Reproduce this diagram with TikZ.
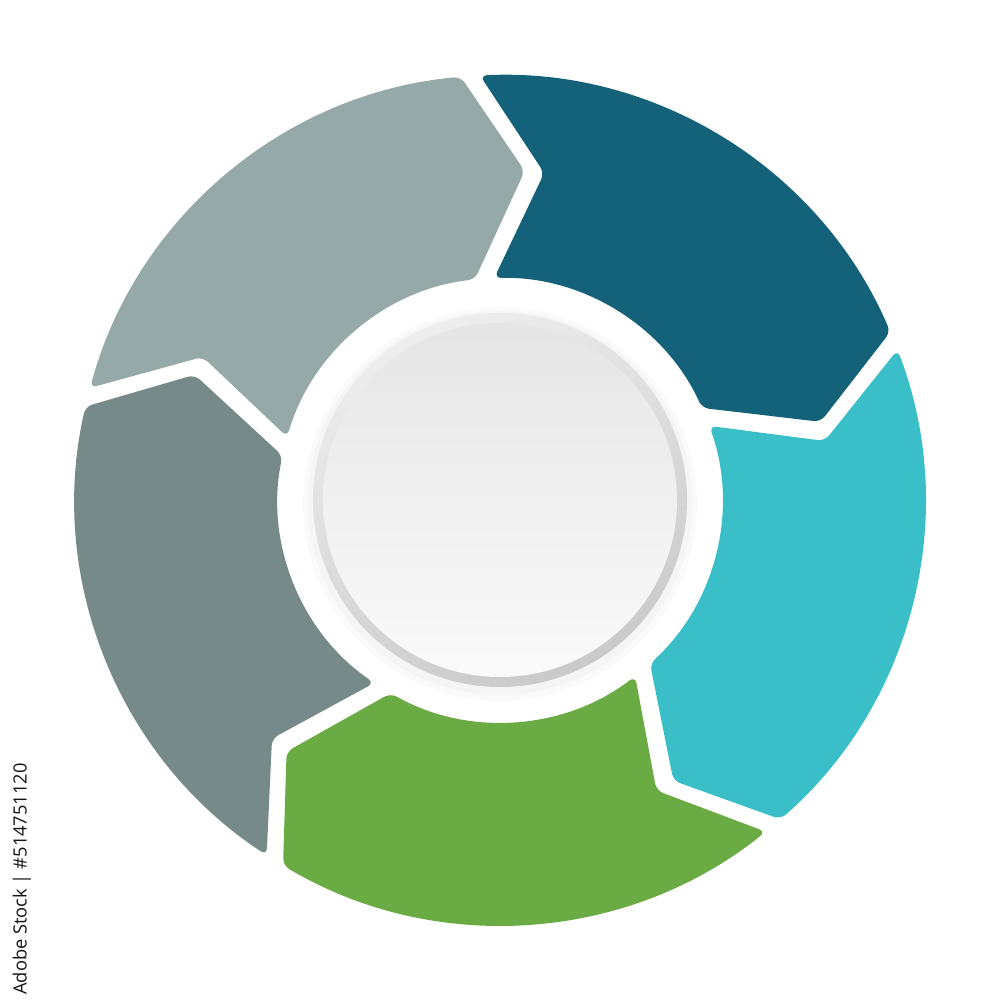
\documentclass[tikz,border=0pt]{standalone}
\usepackage{fontspec}
\setsansfont{Open Sans}
\usepackage{tikz}

\definecolor{cycleblue}{HTML}{14627A}
\definecolor{cyclecyan}{HTML}{3ABFC9}
\definecolor{cyclegreen}{HTML}{6AAB44}
\definecolor{cycledark}{HTML}{768A89}
\definecolor{cyclelight}{HTML}{95A9A8}

\begin{document}
\begin{tikzpicture}
    \useasboundingbox (-5,-5) rectangle (5,5);

    % Dark blue arrow (top right)
    \fill[cycleblue, rounded corners=2pt] (82.3:3.3) -- (91.5:2.22)
        arc[start angle=91.5, end angle=24.5, radius=2.22] -- (13.7:3.3) -- (23.3:4.25)
        arc[start angle=23.3, end angle=92.7, radius=4.25] -- cycle;

    % Cyan arrow (right)
    \fill[cyclecyan, rounded corners=2pt] (10.3:3.3) -- (19.5:2.22)
        arc[start angle=19.5, end angle=-47.5, radius=2.22] -- (-58.3:3.3) -- (-48.7:4.25)
        arc[start angle=-48.7, end angle=20.7, radius=4.25] -- cycle;

    % Green arrow (bottom)
    \fill[cyclegreen, rounded corners=2pt] (-61.7:3.3) -- (-52.5:2.22)
        arc[start angle=-52.5, end angle=-119.5, radius=2.22] -- (-130.3:3.3) -- (-120.7:4.25)
        arc[start angle=-120.7, end angle=-51.3, radius=4.25] -- cycle;

    % Dark gray arrow (left)
    \fill[cycledark, rounded corners=2pt] (-133.7:3.3) -- (-124.5:2.22)
        arc[start angle=-124.5, end angle=-191.5, radius=2.22] -- (-202.3:3.3) -- (-192.7:4.25)
        arc[start angle=-192.7, end angle=-123.3, radius=4.25] -- cycle;

    % Light gray arrow (top left)
    \fill[cyclelight, rounded corners=2pt] (154.3:3.3) -- (163.5:2.22)
        arc[start angle=163.5, end angle=96.5, radius=2.22] -- (85.7:3.3) -- (95.3:4.25)
        arc[start angle=95.3, end angle=164.7, radius=4.25] -- cycle;

    % Soft shadow round the centre
    \fill[black!2] (0,-0.04) circle (1.97);
    \fill[black!4] (0,-0.03) circle (1.92);

    % Centre button: rim and face
    \shade[top color=black!7, bottom color=black!21, shading angle=25] (0,0) circle (1.87);
    \shade[top color=black!10, bottom color=black!2] (0,0) circle (1.77);

    % Stock number along the left edge
    \node[rotate=90, inner sep=0pt, text=black!92, font=\sffamily\fontsize{5.2}{6}\selectfont]
        (stockid) at (-4.78,-3.79) {Adobe Stock | \#514751120};
\end{tikzpicture}
\end{document}
